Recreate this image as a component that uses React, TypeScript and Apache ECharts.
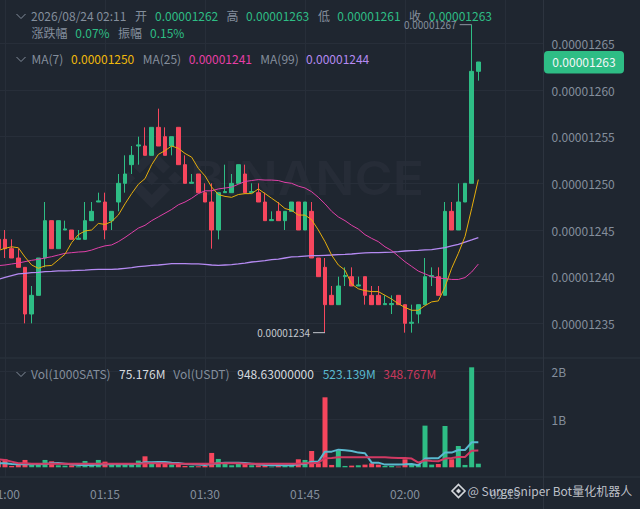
import React, { useEffect, useRef } from "react";
import * as echarts from "echarts";

// Candle positions: minutes after 01:00 (first candle is 00:59, last 02:11). Prices in units of 1e-8.
const firstMinute = -1;
const opens = [
  1244, 1244, 1243, 1242, 1241, 1236, 1238, 1242, 1246, 1243, 1245, 1245, 1244, 1244, 1246, 1248, 1248, 1246, 1248, 1250,
  1252, 1254, 1254, 1253, 1256, 1255, 1254, 1256, 1252, 1250, 1251, 1249, 1248, 1245, 1249, 1249, 1250, 1251, 1249, 1249,
  1248, 1246, 1247, 1246, 1247, 1248, 1245, 1247, 1242, 1241, 1238, 1237, 1240, 1240, 1239, 1240, 1238, 1238, 1237, 1237,
  1238, 1237, 1235, 1236, 1237, 1240, 1240, 1238, 1247, 1245, 1248, 1250, 1262,
];
const closes = [
  1243, 1243, 1242, 1241, 1236, 1238, 1242, 1246, 1243, 1246, 1245, 1244, 1244, 1246, 1247, 1248, 1245, 1247, 1250, 1251,
  1253, 1254, 1253, 1256, 1254, 1253, 1255, 1252, 1250, 1250, 1249, 1248, 1245, 1249, 1249, 1250, 1252, 1249, 1249, 1248,
  1246, 1246, 1246, 1247, 1248, 1245, 1248, 1242, 1240, 1237, 1237, 1239, 1240, 1239, 1239, 1238, 1237, 1237, 1237, 1237,
  1237, 1235, 1235, 1237, 1240, 1240, 1238, 1247, 1245, 1248, 1250, 1262, 1263,
];
const highs = [
  1245, 1245, 1244, 1243, 1241, 1239, 1242, 1248, 1246, 1246, 1246, 1245, 1245, 1248, 1248, 1249, 1249, 1247, 1251, 1253,
  1254, 1255, 1256, 1256, 1258, 1256, 1255, 1256, 1253, 1251, 1251, 1250, 1250, 1249, 1252, 1251, 1252, 1252, 1250, 1250,
  1249, 1247, 1248, 1247, 1248, 1248, 1248, 1248, 1242, 1242, 1239, 1240, 1241, 1241, 1240, 1240, 1239, 1239, 1238, 1238,
  1238, 1237, 1237, 1237, 1242, 1241, 1241, 1248, 1248, 1250, 1250, 1267, 1263,
];
const lows = [
  1243, 1242, 1242, 1241, 1235, 1235, 1238, 1241, 1243, 1243, 1245, 1244, 1244, 1244, 1246, 1248, 1244, 1245, 1247, 1249,
  1251, 1252, 1253, 1253, 1254, 1253, 1253, 1252, 1250, 1250, 1249, 1248, 1243, 1244, 1249, 1249, 1250, 1249, 1249, 1248,
  1246, 1246, 1246, 1245, 1247, 1245, 1245, 1242, 1240, 1234, 1237, 1237, 1239, 1239, 1239, 1237, 1237, 1237, 1237, 1236,
  1237, 1234, 1234, 1235, 1237, 1239, 1238, 1238, 1245, 1245, 1248, 1250, 1261,
];
const ma7 = [
  1242.8, 1243.04, 1243.2, 1243.1, 1242.1, 1241.25, 1240.9, 1241.15, 1241.2, 1241.8, 1242.4, 1243.65, 1244.5, 1244.9, 1245, 1245.7, 1245.6, 1245.9, 1246.6, 1247.8,
  1248.9, 1249.9, 1250.5, 1252, 1253.1, 1253.5, 1254, 1253.75, 1253.2, 1252.8, 1251.6, 1250.8, 1249.6, 1248.8, 1248.6, 1248.5, 1248.8, 1248.9, 1248.9, 1249.4,
  1248.9, 1248.4, 1247.9, 1247.3, 1247.1, 1246.6, 1246.6, 1246.1, 1245, 1243.75, 1242.3, 1241.25, 1240.7, 1239.2, 1238.7, 1238.5, 1238.4, 1238.4, 1238, 1237.6,
  1237.1, 1236.7, 1236.4, 1236.4, 1236.9, 1237.3, 1237.4, 1238.9, 1240.9, 1242.5, 1244.3, 1247.3, 1250.4,
];
const ma25 = [
  1241.18, 1241.25, 1241.36, 1241.46, 1241.61, 1241.75, 1241.86, 1242, 1242.14, 1242.32, 1242.5, 1242.57, 1242.64, 1242.68, 1242.85, 1243.1, 1243.3, 1243.4, 1243.75, 1244.2,
  1244.7, 1245.2, 1245.5, 1246, 1246.4, 1246.8, 1247.2, 1247.7, 1248, 1248.4, 1248.9, 1249.2, 1249.2, 1249.4, 1249.5, 1249.6, 1249.9, 1250.2, 1250.3, 1250.4,
  1250.35, 1250.35, 1250.3, 1250.1, 1250, 1249.7, 1249.5, 1249.1, 1248.5, 1247.8, 1247, 1246.4, 1246, 1245.5, 1245.1, 1244.5, 1244.1, 1243.75, 1243.2, 1242.8,
  1242.2, 1241.6, 1241.1, 1240.6, 1240.3, 1240, 1239.85, 1239.8, 1239.7, 1239.7, 1239.9, 1240.5, 1241.35,
];
const ma99 = [
  1239.71, 1239.93, 1240.11, 1240.29, 1240.36, 1240.43, 1240.46, 1240.54, 1240.57, 1240.61, 1240.61, 1240.64, 1240.68, 1240.71, 1240.75, 1240.79, 1240.79, 1240.79, 1240.82, 1240.89,
  1240.96, 1241.07, 1241.14, 1241.21, 1241.25, 1241.32, 1241.39, 1241.39, 1241.39, 1241.36, 1241.36, 1241.32, 1241.25, 1241.21, 1241.25, 1241.29, 1241.36, 1241.46, 1241.57, 1241.64,
  1241.71, 1241.82, 1241.89, 1242, 1242.11, 1242.14, 1242.21, 1242.25, 1242.25, 1242.29, 1242.32, 1242.36, 1242.39, 1242.43, 1242.5, 1242.54, 1242.57, 1242.57, 1242.61, 1242.64,
  1242.68, 1242.75, 1242.79, 1242.82, 1242.86, 1242.89, 1243, 1243.11, 1243.29, 1243.46, 1243.71, 1243.93, 1244.18,
];
// Volumes in millions.
const volumes = [
  139, 167, 28, 56, 153, 56, 69, 153, 125, 42, 35, 42, 21, 132, 56, 153, 118, 69, 56, 56,
  62, 139, 229, 69, 97, 83, 56, 83, 28, 28, 21, 28, 299, 174, 83, 42, 69, 69, 42, 42,
  42, 14, 56, 42, 56, 167, 153, 340, 83, 1458, 49, 347, 28, 35, 42, 56, 83, 56, 28, 28,
  14, 167, 56, 56, 868, 56, 69, 861, 167, 444, 49, 2083, 75.176,
];
const volMaFast = [
  83, 83, 69, 62, 62, 62, 62, 69, 83, 90, 76, 62, 49, 49, 49, 56, 62, 62, 62, 62,
  62, 76, 104, 104, 111, 111, 97, 90, 69, 62, 56, 49, 69, 83, 97, 97, 97, 90, 76, 62,
  49, 42, 42, 42, 42, 62, 69, 118, 118, 326, 326, 368, 354, 340, 306, 292, 97, 97, 56, 56,
  56, 62, 69, 42, 181, 188, 188, 306, 306, 361, 361, 521, 523.139,
];
const volMaSlow = [
  167, 153, 118, 83, 83, 76, 76, 76, 76, 76, 76, 76, 76, 76, 76, 76, 76, 76, 76, 76,
  76, 76, 83, 83, 83, 83, 76, 76, 76, 76, 76, 76, 76, 83, 83, 83, 83, 76, 76, 76,
  76, 76, 76, 76, 76, 76, 83, 83, 97, 188, 194, 208, 208, 208, 208, 208, 208, 208, 208, 201,
  194, 194, 181, 97, 146, 132, 125, 181, 194, 215, 215, 347, 348.767,
];
const axisTickLabels = ["01:00", "01:15", "01:30", "01:45", "02:00", "02:15"];
const priceRange = { min: 1230, max: 1270, step: 5 };
const volumeRange = { min: 0, max: 2200, step: 1000 };
const volumeTickLabels = ["", "1B", "2B"];
const headerRows = [
  ["2026/08/24 02:11", 31, 15.5, "grey"], ["开", 135, 15.5, "grey"], ["0.00001262", 155, 15.5, "green"],
  ["高", 226.5, 15.5, "grey"], ["0.00001263", 246, 15.5, "green"], ["低", 318, 15.5, "grey"],
  ["0.00001261", 337.3, 15.5, "green"], ["收", 409, 15.5, "grey"], ["0.00001263", 428.7, 15.5, "green"],
  ["涨跌幅", 31.5, 32, "grey"], ["0.07%", 75.3, 32, "green"], ["振幅", 118, 32, "grey"], ["0.15%", 150, 32, "green"],
  ["MA(7)", 31.5, 58.5, "grey"], ["0.00001250", 71, 58.5, "yellow"], ["MA(25)", 142.7, 58.5, "grey"],
  ["0.00001241", 188.7, 58.5, "magenta"], ["MA(99)", 260.3, 58.5, "grey"], ["0.00001244", 306, 58.5, "purple"],
  ["Vol(1000SATS)", 31, 373.5, "grey"], ["75.176M", 119, 373.5, "white"], ["Vol(USDT)", 173.3, 373.5, "grey"],
  ["948.63000000", 237.3, 373.5, "white"], ["523.139M", 322.7, 373.5, "cyan"], ["348.767M", 383.3, 373.5, "rose"],
] as [string, number, number, string][];

const COLORS: Record<string, string> = {
  grey: "#848E9C", green: "#2EBD85", yellow: "#F0B90B", magenta: "#E63EA6", purple: "#B58AF2",
  white: "#D5D9DF", cyan: "#5AB9CF", rose: "#C8385C",
};
const BG = "#1F2630";
const GRID = "#272E39";
const SEP = "#2D343F";
const UP = "#2EBD85";
const DOWN = "#F6465D";
const MARK = "#262C37";
const FONT = '"Noto Sans CJK SC", "Noto Sans", sans-serif';

const logoPath =
  "M38.73 53.2L63.3 28.63L87.88 53.21L102.18 38.91L63.3 0L24.43 38.87ZM0 63.31L14.3 49.01L28.6 63.31L14.3 77.61ZM38.73 73.41L63.3 97.98L87.88 73.4L102.19 87.69L63.3 126.61L24.42 87.73ZM98 63.31L112.3 49.01L126.6 63.31L112.3 77.61ZM77.83 63.3L63.3 48.77L48.77 63.3L63.3 77.83Z";
echarts.graphic.registerShape("binanceLogo", echarts.graphic.extendPath(logoPath, {}) as any);

const xOf = (i: number) => firstMinute + i;
const xMin = -15;
const xMax = 80.7;

function chevron(x: number, y: number) {
  return {
    type: "polyline",
    shape: { points: [[x, y], [x + 4.5, y + 4.5], [x + 9, y]] },
    style: { stroke: COLORS.grey, lineWidth: 1, fill: "none" },
  };
}

function buildOption() {
  const hidden = { show: false };
  const baseX = { type: "value", min: xMin, max: xMax, interval: 15, show: false, splitLine: hidden };
  const doji = (o: number, c: number) => (o === c ? c + 0.12 : c);
  const minuteData = opens.map((o, i) => [xOf(i), o, doji(o, closes[i]), lows[i], highs[i]]);
  const line = (d: number[], color: string, width: number, xi: number) => ({
    type: "line", xAxisIndex: xi, yAxisIndex: xi, data: d.map((v, i) => [xOf(i), v]),
    symbol: "none", silent: true, lineStyle: { color, width }, z: 3,
  });
  const graphic: any[] = [
    { type: "binanceLogo", x: 121.7, y: 148.3, scaleX: 0.474, scaleY: 0.474, style: { fill: MARK }, z: 0 },
    {
      type: "text", x: 190, y: 178.5, scaleX: 1.125, z: 0,
      style: { text: "BINANCE", fill: MARK, font: '600 46px Inter, sans-serif', verticalAlign: "middle" },
    },
    { type: "line", shape: { x1: 0, y1: 358, x2: 640, y2: 358 }, style: { stroke: SEP, lineWidth: 1 } },
    { type: "line", shape: { x1: 0, y1: 477, x2: 640, y2: 477 }, style: { stroke: SEP, lineWidth: 1 } },
    { type: "line", shape: { x1: 543.5, y1: 0, x2: 543.5, y2: 509 }, style: { stroke: SEP, lineWidth: 1 } },
    chevron(16.5, 14), chevron(16.5, 57), chevron(16.5, 372),
    ...headerRows.map(([text, x, y, c]) => ({
      type: "text", x, y, z: 5,
      style: { text, fill: COLORS[c], font: `12px ${FONT}`, verticalAlign: "middle" },
    })),
    {
      type: "rect", shape: { x: 544, y: 51, width: 80, height: 22.5, r: 4 }, style: { fill: UP }, z: 6,
    },
    {
      type: "text", x: 584, y: 61.5, z: 7,
      style: { text: "0.00001263", fill: "#F4F6F8", font: `12px ${FONT}`, align: "center", verticalAlign: "middle" },
    },
    {
      type: "polygon", z: 8,
      shape: { points: [[458.5, 484.5], [465, 491], [458.5, 497.5], [452, 491]] },
      style: { fill: "none", stroke: "#D5D8DC", lineWidth: 1.6 },
    },
    {
      type: "polygon", z: 8,
      shape: { points: [[458.5, 488.5], [461, 491], [458.5, 493.5], [456, 491]] },
      style: { fill: "#D5D8DC" },
    },
    {
      type: "text", x: 467.5, y: 490.5, z: 8,
      style: { text: "@ SurgeSniper Bot量化机器人", fill: "rgba(220,223,227,0.85)", font: `12px ${FONT}`, verticalAlign: "middle" },
    },
  ];

  return {
    animation: false,
    backgroundColor: BG,
    grid: [
      { outerBoundsMode: "none", left: -95, width: 638, top: -3.33, height: 373.33 },
      { outerBoundsMode: "none", left: -95, width: 638, top: 361.7, height: 105.6 },
      { outerBoundsMode: "none", left: -95, width: 638, top: 0, height: 477 },
    ],
    xAxis: [
      { ...baseX, gridIndex: 0 },
      { ...baseX, gridIndex: 1 },
      {
        type: "value", gridIndex: 2, min: xMin, max: xMax, interval: 15,
        axisLine: hidden, axisTick: hidden,
        splitLine: { show: true, showMinLine: false, showMaxLine: false, lineStyle: { color: GRID, width: 1 } },
        axisLabel: {
          margin: 10, color: COLORS.grey, fontSize: 12, fontFamily: FONT, showMinLabel: false, showMaxLabel: false,
          hideOverlap: false,
          formatter: (v: number) => (v >= 0 && v % 15 === 0 ? axisTickLabels[v / 15] ?? "" : ""),
        },
      },
    ],
    yAxis: [
      {
        type: "value", gridIndex: 0, position: "right", min: priceRange.min, max: priceRange.max, interval: priceRange.step,
        axisLine: hidden, axisTick: hidden,
        splitLine: { show: true, showMinLine: false, showMaxLine: false, lineStyle: { color: GRID, width: 1 } },
        axisLabel: {
          margin: 8.5, padding: [0, 0, 2, 0], color: COLORS.grey, fontSize: 12, fontFamily: FONT, showMinLabel: false, showMaxLabel: false,
          formatter: (v: number) => (v / 1e8).toFixed(8),
        },
      },
      {
        type: "value", gridIndex: 1, position: "right", min: volumeRange.min, max: volumeRange.max, interval: volumeRange.step,
        axisLine: hidden, axisTick: hidden,
        splitLine: { show: true, showMinLine: false, showMaxLine: false, lineStyle: { color: GRID, width: 1 } },
        axisLabel: {
          margin: 8.5, padding: [0, 0, 2, 0], color: COLORS.grey, fontSize: 12, fontFamily: FONT, showMinLabel: false, showMaxLabel: false,
          formatter: (v: number) => volumeTickLabels[v / volumeRange.step] ?? "",
        },
      },
      { type: "value", gridIndex: 2, min: 0, max: 1, show: false, splitLine: hidden },
    ],
    series: [
      {
        type: "candlestick", xAxisIndex: 0, yAxisIndex: 0, data: minuteData, barWidth: 4, silent: true, z: 2,
        itemStyle: { color: UP, color0: DOWN, borderColor: UP, borderColor0: DOWN, borderWidth: 1 },
        markPoint: {
          silent: true, animation: false,
          data: [
            {
              coord: [xOf(71), 1267], symbol: "rect", symbolSize: [12, 1], symbolOffset: [-6, 0],
              itemStyle: { color: "#8E96A3" },
              label: {
                show: true, position: "left", distance: 3, formatter: "0.00001267",
                color: "#848E9C", fontSize: 10, fontFamily: FONT,
              },
            },
            {
              coord: [xOf(49), 1234], symbol: "rect", symbolSize: [12, 1], symbolOffset: [-6, 0],
              itemStyle: { color: "#C4C8CE" },
              label: {
                show: true, position: "left", distance: 3, formatter: "0.00001234",
                color: "#C4C8CE", fontSize: 10, fontFamily: FONT,
              },
            },
          ],
        },
      },
      line(ma99, "#B58AF2", 1.3, 0),
      line(ma25, "#E040A8", 1, 0),
      line(ma7, "#E6AE0C", 1, 0),
      {
        type: "bar", xAxisIndex: 1, yAxisIndex: 1, barWidth: 5, silent: true, z: 2,
        data: volumes.map((v, i) => ({
          value: [xOf(i), v],
          itemStyle: { color: closes[i] >= opens[i] ? UP : DOWN },
        })),
      },
      line(volMaFast, "#5AB9CF", 2, 1),
      line(volMaSlow, "#D23A63", 2, 1),
    ],
    graphic: { elements: graphic },
  };
}

export default function App() {
  const ref = useRef<HTMLDivElement>(null);
  useEffect(() => {
    const chart = echarts.init(ref.current!, undefined, { renderer: "svg", width: 640, height: 509 });
    chart.setOption(buildOption() as any);
    return () => chart.dispose();
  }, []);
  return <div ref={ref} style={{ position: "fixed", left: 0, top: 0, width: 640, height: 509 }} />;
}
